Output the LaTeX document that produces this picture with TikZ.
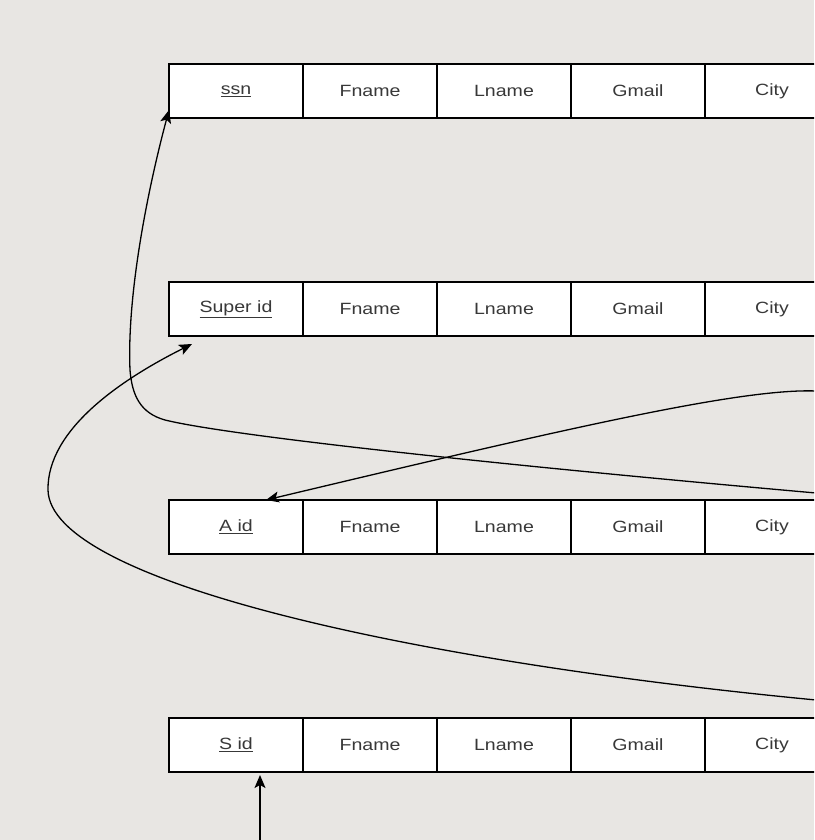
\documentclass[tikz,border=0pt]{standalone}
\usepackage{fontspec}
\newfontfamily\cellfont[FakeStretch=1.2]{Liberation Sans}
\usetikzlibrary{positioning,arrows.meta}
\definecolor{bgcol}{HTML}{E8E6E3}
\definecolor{txtcol}{HTML}{383838}

\begin{document}
\begin{tikzpicture}[x=1pt,y=-1pt,
        cell/.style={draw,fill=white,line width=1.2pt,minimum width=134pt,minimum height=54pt,
            inner sep=0pt,outer sep=0pt,text=txtcol,font=\cellfont\fontsize{16.3}{18}\selectfont},
        link/.style={line width=1.3pt,-{Stealth[length=13pt,width=11pt,inset=3pt]}}]
        \fill [bgcol] (0,0) rectangle (814,840);
        \useasboundingbox (0,0) rectangle (814,840);
        \clip (0,0) rectangle (814,840);
        % first table
        \node [cell,anchor=north west] (ssn) at (169,64) {\underline{ssn}};
        \node [cell,right=0pt of ssn] (ssnF) {Fname};
        \node [cell,right=0pt of ssnF] (ssnL) {Lname};
        \node [cell,right=0pt of ssnL] (ssnG) {Gmail};
        \node [cell,right=0pt of ssnG] (ssnC) {City};
        % second table
        \node [cell,anchor=north west] (sup) at (169,282) {\underline{Super id}};
        \node [cell,right=0pt of sup] (supF) {Fname};
        \node [cell,right=0pt of supF] (supL) {Lname};
        \node [cell,right=0pt of supL] (supG) {Gmail};
        \node [cell,right=0pt of supG] (supC) {City};
        % third table
        \node [cell,anchor=north west] (aid) at (169,500) {\underline{A id}};
        \node [cell,right=0pt of aid] (aidF) {Fname};
        \node [cell,right=0pt of aidF] (aidL) {Lname};
        \node [cell,right=0pt of aidL] (aidG) {Gmail};
        \node [cell,right=0pt of aidG] (aidC) {City};
        % fourth table
        \node [cell,anchor=north west] (sid) at (169,718) {\underline{S id}};
        \node [cell,right=0pt of sid] (sidF) {Fname};
        \node [cell,right=0pt of sidF] (sidL) {Lname};
        \node [cell,right=0pt of sidL] (sidG) {Gmail};
        \node [cell,right=0pt of sidG] (sidC) {City};
        % loose ends
        \coordinate (inA) at (816,493);
        \coordinate (inB) at (816,391);
        \coordinate (inC) at (816,700);
        \coordinate (inD) at (260,842);
        \draw [link] (inA) .. controls (500,465) and (230,436) .. (165,420)
            .. controls (140,413) and (132,395) .. (130,370)
            .. controls (127,300) and (145,200) .. ([yshift=8pt]ssn.south west);
        \draw [link] (inB) .. controls (740,388) and (560,430) .. ([xshift=-37pt]aid.north east);
        \draw [link] (inC) .. controls (400,660) and (50,580) .. (48,490)
            .. controls (47,430) and (120,380) .. ([shift={(23,8)}]sup.south west);
        \draw [link] (inD) -- ([shift={(24,3)}]sid.south);
\end{tikzpicture}
\end{document}
